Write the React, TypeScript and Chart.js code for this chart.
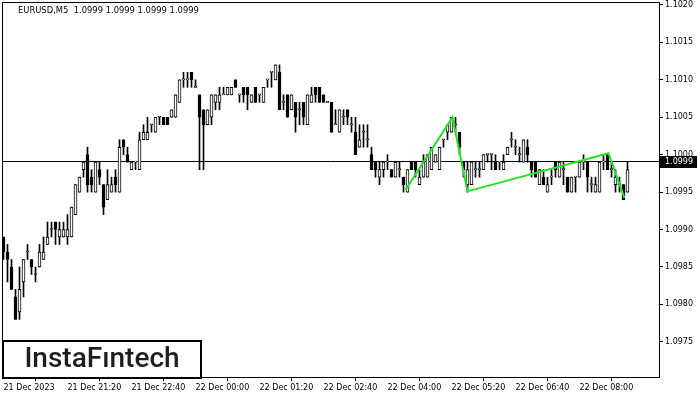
import { useEffect, useRef } from 'react';
import { Chart, registerables } from 'chart.js';

Chart.register(...registerables);

const symbolTitle = 'EURUSD,M5  1.0999 1.0999 1.0999 1.0999';
const brandName = 'InstaF\u0131ntech';
const timeLabels = [
  '21 Dec 2023', '21 Dec 21:20', '21 Dec 22:40', '22 Dec 00:00', '22 Dec 01:20',
  '22 Dec 02:40', '22 Dec 04:00', '22 Dec 05:20', '22 Dec 06:40', '22 Dec 08:00',
];
const barsPerLabel = 16;
const priceTicks = [1.102, 1.1015, 1.101, 1.1005, 1.1, 1.0995, 1.099, 1.0985, 1.098, 1.0975];
const lastPrice = 1.0999;

const opens = [
  1.0989, 1.0987, 1.0985, 1.0981, 1.0979, 1.0983, 1.0987, 1.0986, 1.0984, 1.0985,
  1.0986, 1.0988, 1.0990, 1.0991, 1.0989, 1.0989, 1.0989, 1.0989, 1.0992, 1.0995,
  1.0998, 1.1000, 1.0997, 1.0995, 1.0998, 1.0996, 1.0994, 1.0995, 1.0997, 1.0995,
  1.1002, 1.1000, 1.0998, 1.0999, 1.0998, 1.1002, 1.1002, 1.1004, 1.1003, 1.1005,
  1.1005, 1.1005, 1.1005, 1.1005, 1.1007, 1.1010, 1.1010, 1.1011, 1.1009, 1.1008,
  1.1006, 1.1004, 1.1005, 1.1007, 1.1007, 1.1008, 1.1008, 1.1008, 1.1010, 1.1008,
  1.1009, 1.1009, 1.1007, 1.1009, 1.1008, 1.1007, 1.1010, 1.1011, 1.1010, 1.1011,
  1.1007, 1.1008, 1.1006, 1.1007, 1.1006, 1.1007, 1.1004, 1.1007, 1.1009, 1.1009,
  1.1008, 1.1007, 1.1007, 1.1004, 1.1003, 1.1005, 1.1006, 1.1004, 1.1003, 1.1001,
  1.1003, 1.1002, 1.1000, 1.0999, 1.0997, 1.0998, 1.0999, 1.0998, 1.0997, 1.0998,
  1.0997, 1.0995, 1.0999, 1.0999, 1.0996, 1.0997, 1.0997, 1.0998, 1.0999, 1.0998,
  1.1002, 1.1003, 1.1003, 1.1004, 1.1003, 1.0999, 1.0996, 1.0996, 1.0998, 1.0998,
  1.0998, 1.1000, 1.1000, 1.0999, 1.0999, 1.0998, 1.1000, 1.1002, 1.1001, 1.1000,
  1.0999, 1.1001, 1.0999, 1.0999, 1.0996, 1.0997, 1.0995, 1.0997, 1.0999, 1.0997,
  1.0998, 1.0997, 1.0995, 1.0997, 1.0997, 1.0999, 1.0999, 1.0996, 1.0995, 1.0995,
  1.0999, 1.1000, 1.0998, 1.0996, 1.0996, 1.0996, 1.0995,
];
const highs = [
  1.0989, 1.0988, 1.0986, 1.0982, 1.0985, 1.0986, 1.0988, 1.0986, 1.0985, 1.0988,
  1.0989, 1.0991, 1.0991, 1.0991, 1.0991, 1.0991, 1.0992, 1.0993, 1.0996, 1.0997,
  1.0999, 1.1001, 1.0998, 1.0999, 1.0999, 1.0996, 1.0998, 1.0997, 1.0998, 1.1002,
  1.1002, 1.1001, 1.0999, 1.0999, 1.1003, 1.1004, 1.1005, 1.1004, 1.1005, 1.1005,
  1.1005, 1.1005, 1.1006, 1.1008, 1.1010, 1.1011, 1.1011, 1.1011, 1.1010, 1.1008,
  1.1006, 1.1006, 1.1008, 1.1008, 1.1009, 1.1009, 1.1009, 1.1009, 1.1010, 1.1008,
  1.1009, 1.1009, 1.1008, 1.1009, 1.1008, 1.1009, 1.1010, 1.1011, 1.1012, 1.1012,
  1.1008, 1.1008, 1.1008, 1.1007, 1.1007, 1.1007, 1.1008, 1.1009, 1.1009, 1.1009,
  1.1008, 1.1007, 1.1007, 1.1006, 1.1006, 1.1006, 1.1006, 1.1005, 1.1005, 1.1004,
  1.1004, 1.1004, 1.1001, 1.0999, 1.0999, 1.0999, 1.1000, 1.0998, 1.0999, 1.0999,
  1.0997, 1.0998, 1.0999, 1.0999, 1.0998, 1.1000, 1.1000, 1.1001, 1.1000, 1.1001,
  1.1002, 1.1004, 1.1005, 1.1005, 1.1003, 1.0999, 1.0999, 1.0999, 1.0999, 1.0999,
  1.1000, 1.1000, 1.1000, 1.1000, 1.0999, 1.1000, 1.1001, 1.1003, 1.1002, 1.1001,
  1.1002, 1.1002, 1.0999, 1.0999, 1.0998, 1.0998, 1.0997, 1.0998, 1.0999, 1.0999,
  1.0999, 1.0997, 1.0997, 1.0997, 1.0999, 1.1000, 1.0999, 1.0997, 1.0997, 1.0999,
  1.1000, 1.1000, 1.0999, 1.0998, 1.0997, 1.0996, 1.0999,
];
const lows = [
  1.0986, 1.0983, 1.0982, 1.0978, 1.0978, 1.0981, 1.0986, 1.0984, 1.0983, 1.0985,
  1.0986, 1.0988, 1.0989, 1.0988, 1.0988, 1.0989, 1.0988, 1.0989, 1.0992, 1.0995,
  1.0997, 1.0995, 1.0995, 1.0995, 1.0996, 1.0992, 1.0994, 1.0995, 1.0995, 1.0995,
  1.1000, 1.0999, 1.0998, 1.0998, 1.0998, 1.1002, 1.1002, 1.1003, 1.1003, 1.1004,
  1.1004, 1.1004, 1.1005, 1.1005, 1.1007, 1.1009, 1.1009, 1.1009, 1.1009, 1.0998,
  1.0998, 1.1004, 1.1004, 1.1006, 1.1006, 1.1008, 1.1008, 1.1008, 1.1009, 1.1007,
  1.1007, 1.1006, 1.1007, 1.1007, 1.1007, 1.1007, 1.1009, 1.1009, 1.1010, 1.1006,
  1.1006, 1.1005, 1.1006, 1.1003, 1.1004, 1.1004, 1.1004, 1.1007, 1.1007, 1.1007,
  1.1007, 1.1007, 1.1003, 1.1004, 1.1003, 1.1004, 1.1004, 1.1003, 1.1000, 1.1001,
  1.1001, 1.1001, 1.0998, 1.0997, 1.0996, 1.0997, 1.0998, 1.0997, 1.0997, 1.0997,
  1.0995, 1.0995, 1.0998, 1.0997, 1.0996, 1.0997, 1.0997, 1.0998, 1.0999, 1.0998,
  1.1001, 1.1002, 1.1003, 1.1003, 1.1000, 1.0997, 1.0995, 1.0996, 1.0997, 1.0997,
  1.0998, 1.0999, 1.0998, 1.0998, 1.0998, 1.0998, 1.1000, 1.1001, 1.1000, 1.0999,
  1.0999, 1.0999, 1.0997, 1.0997, 1.0996, 1.0996, 1.0995, 1.0996, 1.0997, 1.0997,
  1.0996, 1.0995, 1.0995, 1.0995, 1.0997, 1.0998, 1.0995, 1.0995, 1.0995, 1.0995,
  1.0998, 1.0998, 1.0997, 1.0995, 1.0995, 1.0994, 1.0995,
];
const closes = [
  1.0987, 1.0986, 1.0982, 1.0978, 1.0982, 1.0986, 1.0987, 1.0985, 1.0984, 1.0987,
  1.0987, 1.0989, 1.0990, 1.0990, 1.0990, 1.0990, 1.0990, 1.0993, 1.0996, 1.0997,
  1.0999, 1.0996, 1.0996, 1.0999, 1.0997, 1.0993, 1.0996, 1.0996, 1.0996, 1.1001,
  1.1001, 1.0999, 1.0999, 1.0999, 1.1002, 1.1003, 1.1003, 1.1004, 1.1005, 1.1005,
  1.1004, 1.1004, 1.1006, 1.1008, 1.1010, 1.1010, 1.1010, 1.1010, 1.1009, 1.1005,
  1.1004, 1.1006, 1.1008, 1.1008, 1.1008, 1.1008, 1.1009, 1.1009, 1.1009, 1.1008,
  1.1008, 1.1008, 1.1008, 1.1007, 1.1008, 1.1009, 1.1010, 1.1011, 1.1012, 1.1006,
  1.1007, 1.1005, 1.1008, 1.1005, 1.1006, 1.1005, 1.1008, 1.1008, 1.1008, 1.1007,
  1.1007, 1.1007, 1.1003, 1.1004, 1.1006, 1.1005, 1.1005, 1.1004, 1.1000, 1.1002,
  1.1003, 1.1002, 1.0998, 1.0998, 1.0998, 1.0999, 1.0999, 1.0997, 1.0999, 1.0998,
  1.0996, 1.0998, 1.0998, 1.0998, 1.0997, 1.0999, 1.1000, 1.1001, 1.1000, 1.1001,
  1.1002, 1.1004, 1.1005, 1.1004, 1.1001, 1.0998, 1.0998, 1.0999, 1.0998, 1.0998,
  1.1000, 1.1000, 1.1000, 1.0998, 1.0999, 1.0999, 1.1001, 1.1002, 1.1001, 1.1000,
  1.1002, 1.1000, 1.0998, 1.0997, 1.0998, 1.0996, 1.0996, 1.0997, 1.0998, 1.0999,
  1.0998, 1.0995, 1.0997, 1.0997, 1.0999, 1.0999, 1.0997, 1.0996, 1.0996, 1.0999,
  1.0999, 1.0998, 1.0998, 1.0997, 1.0996, 1.0994, 1.0998,
];

const patternBars = [100.5, 112.25, 116, 151.25, 155.25];
const patternPrices = [1.09953, 1.1005, 1.09951, 1.10002, 1.09942];

const yAxisMax = 1.10204;
const yAxisMin = 1.09703;
const xAxisMin = -0.375;
const xAxisMax = 163.875;

const axisFont = { family: '"DejaVu Sans", sans-serif', size: 8 };

const decorPlugin = {
  id: 'mtDecor',
  beforeDatasetsDraw(chart: any) {
    const { ctx, chartArea } = chart;
    const y = Math.round(chart.scales.y.getPixelForValue(lastPrice)) - 0.5;
    ctx.save();
    ctx.strokeStyle = '#000';
    ctx.lineWidth = 1;
    ctx.beginPath();
    ctx.moveTo(chartArea.left, y);
    ctx.lineTo(chartArea.right, y);
    ctx.stroke();
    ctx.restore();
  },
  afterDraw(chart: any) {
    const { ctx, chartArea } = chart;
    ctx.save();
    // frame
    ctx.strokeStyle = '#000';
    ctx.lineWidth = 1;
    ctx.strokeRect(chartArea.left + 0.5, chartArea.top + 0.5, chartArea.right - chartArea.left, chartArea.bottom - chartArea.top);
    // title
    ctx.fillStyle = '#000';
    ctx.font = '8.4px "DejaVu Sans", sans-serif';
    ctx.textBaseline = 'middle';
    ctx.textAlign = 'left';
    ctx.fillText(symbolTitle, 18, 10.5);
    // last price label
    const py = Math.round(chart.scales.y.getPixelForValue(lastPrice));
    ctx.fillStyle = '#000';
    ctx.fillRect(chartArea.right + 1, py - 6, 37, 12);
    ctx.fillStyle = '#fff';
    ctx.font = '8px "DejaVu Sans", sans-serif';
    ctx.fillText(lastPrice.toFixed(4), chartArea.right + 6, py);
    // logo box
    ctx.fillStyle = '#fff';
    ctx.fillRect(3, 341, 198, 37);
    ctx.strokeStyle = '#000';
    ctx.lineWidth = 2;
    ctx.strokeRect(3, 341, 198, 37);
    ctx.fillStyle = '#1e1e1e';
    ctx.font = '500 28px Roboto, sans-serif';
    ctx.textAlign = 'center';
    ctx.textBaseline = 'middle';
    ctx.fillText(brandName, 102, 360);
    ctx.restore();
  },
};

export default function App() {
  const ref = useRef<HTMLCanvasElement>(null);
  useEffect(() => {
    document.body.style.margin = '0';
    const wickData = opens.map((_, i) => ({ x: i, y: [lows[i], highs[i]] }));
    const bodyData = opens.map((o, i) => ({ x: i, y: [o, closes[i]] }));
    const bodyFill = opens.map((o, i) => (closes[i] >= o ? '#ffffff' : '#000000'));
    const patternData = patternBars.map((b, i) => ({ x: b, y: patternPrices[i] }));

    const chart = new Chart(ref.current as HTMLCanvasElement, {
      type: 'bar',
      data: {
        datasets: [
          {
            type: 'line',
            data: patternData,
            borderColor: '#22e622',
            borderWidth: 2,
            pointRadius: 0,
            fill: false,
            tension: 0,
            order: 0,
          } as any,
          {
            data: bodyData,
            backgroundColor: bodyFill,
            borderColor: '#000000',
            borderWidth: 1,
            borderSkipped: false,
            barThickness: 3,
            minBarLength: 1,
            grouped: false,
            order: 1,
          } as any,
          {
            data: wickData,
            backgroundColor: '#000000',
            borderWidth: 0,
            barThickness: 1,
            minBarLength: 1,
            grouped: false,
            order: 2,
          } as any,
        ],
      },
      options: {
        responsive: false,
        animation: false,
        devicePixelRatio: 1,
        events: [],
        layout: { padding: { left: 2, top: 2, right: 0, bottom: 0 } },
        plugins: { legend: { display: false }, tooltip: { enabled: false } },
        scales: {
          x: {
            type: 'linear',
            min: xAxisMin,
            max: xAxisMax,
            offset: false,
            afterBuildTicks: (s: any) => {
              s.ticks = timeLabels.map((_, k) => ({ value: k * barsPerLabel }));
            },
            afterFit: (s: any) => {
              s.height = 23;
              s.paddingLeft = 0;
              s.paddingRight = 0;
            },
            ticks: {
              autoSkip: false,
              maxRotation: 0,
              minRotation: 0,
              align: 'start',
              padding: 2,
              color: '#000',
              font: axisFont,
              callback: (v: any) => timeLabels[Math.round(Number(v) / barsPerLabel)] ?? '',
            },
            grid: { drawOnChartArea: false, drawTicks: true, tickLength: 4, color: '#000', lineWidth: 1 },
            border: { display: false },
          },
          y: {
            position: 'right',
            min: yAxisMin,
            max: yAxisMax,
            afterBuildTicks: (s: any) => {
              s.ticks = priceTicks.map((v) => ({ value: v }));
            },
            afterFit: (s: any) => {
              s.width = 41;
              s.paddingTop = 0;
              s.paddingBottom = 0;
            },
            ticks: {
              padding: 2,
              color: '#000',
              font: axisFont,
              callback: (v: any) => Number(v).toFixed(4),
            },
            grid: { drawOnChartArea: false, drawTicks: true, tickLength: 4, color: '#000', lineWidth: 1 },
            border: { display: false },
          },
        },
      } as any,
      plugins: [decorPlugin],
    });
    return () => chart.destroy();
  }, []);
  return (
    <div style={{ width: 700, height: 400 }}>
      <canvas ref={ref} width={700} height={400} style={{ display: 'block', width: 700, height: 400 }} />
    </div>
  );
}
